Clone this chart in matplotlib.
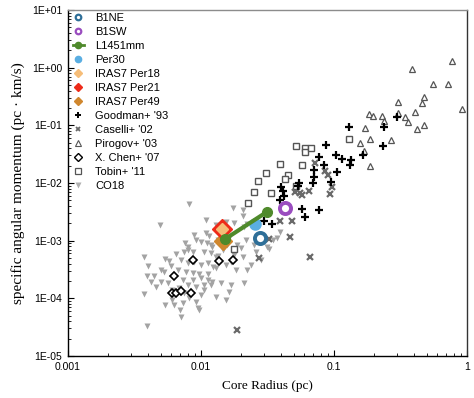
import numpy as np
import matplotlib
matplotlib.use("Agg")
import matplotlib.pyplot as plt
from matplotlib.lines import Line2D
from matplotlib.ticker import LogLocator, NullFormatter

# core radius (pc) / specific angular momentum (pc km/s)
b1ne_r, b1ne_j = [0.028], [0.0011]
b1sw_r, b1sw_j = [0.043], [0.0037]
l1451_r, l1451_j = [0.0151, 0.0311], [0.00106, 0.00312]
per30_r, per30_j = [0.0256], [0.00195]
per18_r, per18_j = [0.0145], [0.0016]
per21_r, per21_j = [0.0145], [0.0016]
per49_r, per49_j = [0.0146], [0.00098]

goodman_r = [0.129, 0.236, 0.297, 0.232, 0.0877, 0.0773, 0.104, 0.114, 0.134, 0.133,
             0.164, 0.0838, 0.0713, 0.105, 0.0704, 0.0697, 0.0957, 0.055, 0.0538, 0.0401,
             0.042, 0.0396, 0.0573, 0.0773, 0.0603, 0.0297, 0.0339, 0.041]
goodman_j = [0.095, 0.095, 0.138, 0.044, 0.0463, 0.0283, 0.0303, 0.0265, 0.0251, 0.0203,
             0.031, 0.0208, 0.0169, 0.0154, 0.0128, 0.0102, 0.0106, 0.0102, 0.0089, 0.00846,
             0.00605, 0.0051, 0.00356, 0.00338, 0.00262, 0.00223, 0.00195, 0.00715]

caselli_r = [0.0724, 0.0861, 0.0897, 0.0962, 0.0929, 0.0649, 0.0505, 0.0553, 0.0577,
             0.0486, 0.0466, 0.0396, 0.0324, 0.0274, 0.0656, 0.0185]
caselli_j = [0.022, 0.0164, 0.0138, 0.00846, 0.00647, 0.00738, 0.00687, 0.00684, 0.0061,
             0.00223, 0.00115, 0.00216, 0.00108, 0.00051, 0.00053, 0.0000284]

pirogov_r = [0.769, 0.385, 0.553, 0.718, 0.478, 0.458, 0.305, 0.403, 0.914, 0.182, 0.196,
             0.230, 0.239, 0.305, 0.339, 0.363, 0.420, 0.471, 0.172, 0.187, 0.268, 0.156,
             0.169, 0.187]
pirogov_j = [1.31, 0.938, 0.528, 0.528, 0.307, 0.242, 0.255, 0.173, 0.192, 0.156, 0.147,
             0.144, 0.121, 0.162, 0.142, 0.115, 0.0877, 0.1005, 0.0891, 0.0589, 0.0558,
             0.049, 0.0353, 0.0198]

chen_r = [0.00871, 0.00626, 0.00603, 0.00652, 0.00705, 0.00838, 0.0136, 0.0174]
chen_j = [0.000465, 0.000248, 0.000124, 0.000124, 0.000135, 0.000124, 0.000441, 0.000465]

tobin_r = [0.052, 0.0603, 0.0607, 0.0676, 0.129, 0.0392, 0.0577, 0.031, 0.0453, 0.0429,
           0.0267, 0.025, 0.0337, 0.0522, 0.0225, 0.0176]
tobin_j = [0.044, 0.0398, 0.0342, 0.0406, 0.0586, 0.021, 0.0204, 0.0147, 0.0137, 0.0116,
           0.011, 0.00706, 0.00658, 0.00901, 0.00447, 0.00073]

co18_r = [0.0081, 0.0049, 0.0109, 0.0037, 0.0040, 0.0039, 0.0044, 0.0037, 0.0039, 0.0054,
          0.0063, 0.0073, 0.0069, 0.0095, 0.0071, 0.0054, 0.0057, 0.0050, 0.0053, 0.0076,
          0.0080, 0.0109, 0.0114, 0.0091, 0.0100, 0.0110, 0.0118, 0.0080, 0.0074, 0.0087,
          0.0105, 0.0118, 0.0129, 0.0071, 0.0080, 0.0088, 0.0100, 0.0112, 0.0124, 0.0067,
          0.0077, 0.0087, 0.0096, 0.0112, 0.0050, 0.0056, 0.0073, 0.0080, 0.0091, 0.0105,
          0.0074, 0.0081, 0.0091, 0.0061, 0.0129, 0.0153, 0.0173, 0.0206, 0.0176, 0.0209,
          0.0141, 0.0161, 0.0185, 0.0217, 0.0249, 0.0316, 0.0345, 0.0396, 0.0281, 0.0122,
          0.0146, 0.0176, 0.0206, 0.0112, 0.0118, 0.0141, 0.0167, 0.0209, 0.0129, 0.0153,
          0.0182, 0.0236, 0.0100, 0.0129, 0.0153, 0.0281, 0.0206, 0.0221, 0.0370, 0.0322,
          0.0199, 0.0221, 0.0161, 0.0096, 0.0088, 0.0065, 0.0059, 0.0087, 0.0046, 0.0068,
          0.0061, 0.0100, 0.0122, 0.0105, 0.0042, 0.0135, 0.0156, 0.0135, 0.0167, 0.0258]
co18_j = [0.00435, 0.00188, 0.00229, 0.00052, 0.00037, 0.00024, 0.00024, 0.00012, 0.000033, 0.000077,
          0.000077, 0.000084, 0.000063, 0.000069, 0.000048, 0.00048, 0.00045, 0.00031, 0.00029, 0.00091,
          0.00069, 0.00137, 0.00121, 0.00103, 0.00095, 0.00091, 0.00085, 0.00078, 0.00064, 0.00064,
          0.00064, 0.00062, 0.00052, 0.00047, 0.00041, 0.00043, 0.00038, 0.00041, 0.00035, 0.00031,
          0.00029, 0.00028, 0.00026, 0.00026, 0.00019, 0.000185, 0.00021, 0.00017, 0.000158, 0.00017,
          0.000124, 0.000102, 0.000087, 0.000094, 0.00188, 0.00211, 0.0037, 0.00342, 0.00203, 0.00173,
          0.00126, 0.00112, 0.00085, 0.00103, 0.00085, 0.00078, 0.00103, 0.00142, 0.00121, 0.00078,
          0.00069, 0.00057, 0.00052, 0.00021, 0.00017, 0.000185, 0.00017, 0.000185, 0.00034, 0.00038,
          0.00031, 0.00038, 0.000115, 0.000106, 0.000094, 0.00047, 0.00269, 0.00195, 0.00112, 0.00072,
          0.00075, 0.00031, 0.000129, 0.000063, 0.00126, 0.00059, 0.00037, 0.00021, 0.000158, 0.000152,
          0.00014, 0.000226, 0.00019, 0.00014, 0.00019, 0.00103, 0.00085, 0.00055, 0.00043, 0.00064]

x_ticks = [0.001, 0.01, 0.1, 1]
x_ticklabels = ["0.001", "0.01", "0.1", "1"]
y_ticks = [1e-5, 1e-4, 1e-3, 1e-2, 1e-1, 1e0, 1e1]
y_ticklabels = ["1E-05", "1E-04", "1E-03", "1E-02", "1E-01", "1E+00", "1E+01"]

c_b1ne = "#2f6f98"
c_b1sw = "#9a4dbf"
c_green = "#4f8a2b"
c_per30 = "#5aaee2"
c_per18 = "#f6bd78"
c_per21 = "#ee2b1a"
c_per49 = "#d0872e"

fig = plt.figure(figsize=(4.74, 3.98), dpi=100)
ax = fig.add_axes([68 / 474, 42 / 398, 399 / 474, 346 / 398])

ax.plot(co18_r, co18_j, "v", ms=4.2, color="#a3a3a3", mec="none", zorder=2)
ax.plot(chen_r, chen_j, "D", ms=4.2, mfc="white", mec="black", mew=1.2, zorder=3)
ax.plot(tobin_r, tobin_j, "s", ms=5, mfc="white", mec="#555555", mew=1.0, zorder=3)
ax.plot(pirogov_r, pirogov_j, "^", ms=4.5, mfc="white", mec="#555555", mew=0.9, zorder=3)
ax.plot(caselli_r, caselli_j, "x", ms=4.5, color="#6a6a6a", mew=1.6, zorder=3)
ax.plot(goodman_r, goodman_j, "+", ms=6, color="black", mew=1.6, zorder=4)

ax.plot(per49_r, per49_j, "D", ms=9, color=c_per49, mec=c_per49, zorder=5)
ax.plot(per21_r, per21_j, "D", ms=10, color=c_per21, zorder=5)
ax.plot(per18_r, per18_j, "D", ms=6.5, color=c_per18, zorder=6)
ax.plot(per30_r, per30_j, "o", ms=8, color=c_per30, zorder=5)
ax.plot(l1451_r, l1451_j, "-o", ms=7, lw=3, color=c_green, zorder=6)
ax.plot(b1ne_r, b1ne_j, "o", ms=8, mfc="white", mec=c_b1ne, mew=2.8, zorder=6)
ax.plot(b1sw_r, b1sw_j, "o", ms=8, mfc="white", mec=c_b1sw, mew=2.8, zorder=6)

ax.set_xscale("log")
ax.set_yscale("log")
ax.set_xlim(0.001, 1)
ax.set_ylim(1e-5, 10)
ax.set_xticks(x_ticks)
ax.set_xticklabels(x_ticklabels, family="Liberation Sans")
ax.set_yticks(y_ticks)
ax.set_yticklabels(y_ticklabels, family="Liberation Sans")
ax.xaxis.set_minor_locator(LogLocator(base=10, subs=np.arange(2, 10)))
ax.yaxis.set_minor_locator(LogLocator(base=10, subs=np.arange(2, 10)))
ax.xaxis.set_minor_formatter(NullFormatter())
ax.yaxis.set_minor_formatter(NullFormatter())
ax.tick_params(which="both", direction="in", top=False, right=False)
ax.tick_params(which="major", length=4, width=0.8, labelsize=7.5, pad=4)
ax.tick_params(which="minor", length=2, width=0.6)

ax.spines["top"].set_color("#8c8c8c")
ax.spines["right"].set_color("#333333")
for s in ax.spines.values():
    s.set_linewidth(1.0)

ax.set_xlabel("Core Radius (pc)", family="Liberation Serif", fontsize=9.5, labelpad=6)
ax.set_ylabel("specific angular momentum (pc \u00b7 km/s)", family="Liberation Serif",
              fontsize=11, labelpad=5)

handles = [
    Line2D([], [], ls="none", marker="o", ms=4, mfc="white", mec=c_b1ne, mew=1.6),
    Line2D([], [], ls="none", marker="o", ms=4, mfc="white", mec=c_b1sw, mew=1.6),
    Line2D([], [], ls="-", lw=2, marker="o", ms=4.5, color=c_green),
    Line2D([], [], ls="none", marker="o", ms=4.5, color=c_per30),
    Line2D([], [], ls="none", marker="D", ms=4.5, color=c_per18),
    Line2D([], [], ls="none", marker="D", ms=4.5, color=c_per21),
    Line2D([], [], ls="none", marker="D", ms=4.5, color=c_per49),
    Line2D([], [], ls="none", marker="+", ms=4.5, color="black", mew=1.4),
    Line2D([], [], ls="none", marker="x", ms=3.5, color="#6a6a6a", mew=1.3),
    Line2D([], [], ls="none", marker="^", ms=3.8, mfc="white", mec="#555555", mew=0.8),
    Line2D([], [], ls="none", marker="D", ms=4, mfc="white", mec="black", mew=1.0),
    Line2D([], [], ls="none", marker="s", ms=4, mfc="white", mec="#555555", mew=0.9),
    Line2D([], [], ls="none", marker="v", ms=3.8, color="#b0b0b0", mec="none"),
]
labels = ["B1NE", "B1SW", "L1451mm", "Per30", "IRAS7 Per18", "IRAS7 Per21", "IRAS7 Per49",
          "Goodman+ '93", "Caselli+ '02", "Pirogov+ '03", "X. Chen+ '07", "Tobin+ '11", "CO18"]
ax.legend(handles, labels, loc="upper left", frameon=False,
          prop={"family": "Liberation Sans", "size": 8}, handlelength=1.0,
          handletextpad=1.0, labelspacing=0.36, borderaxespad=0.2,
          bbox_to_anchor=(-0.005, 1.01))

fig.savefig("out.png", dpi=100)
